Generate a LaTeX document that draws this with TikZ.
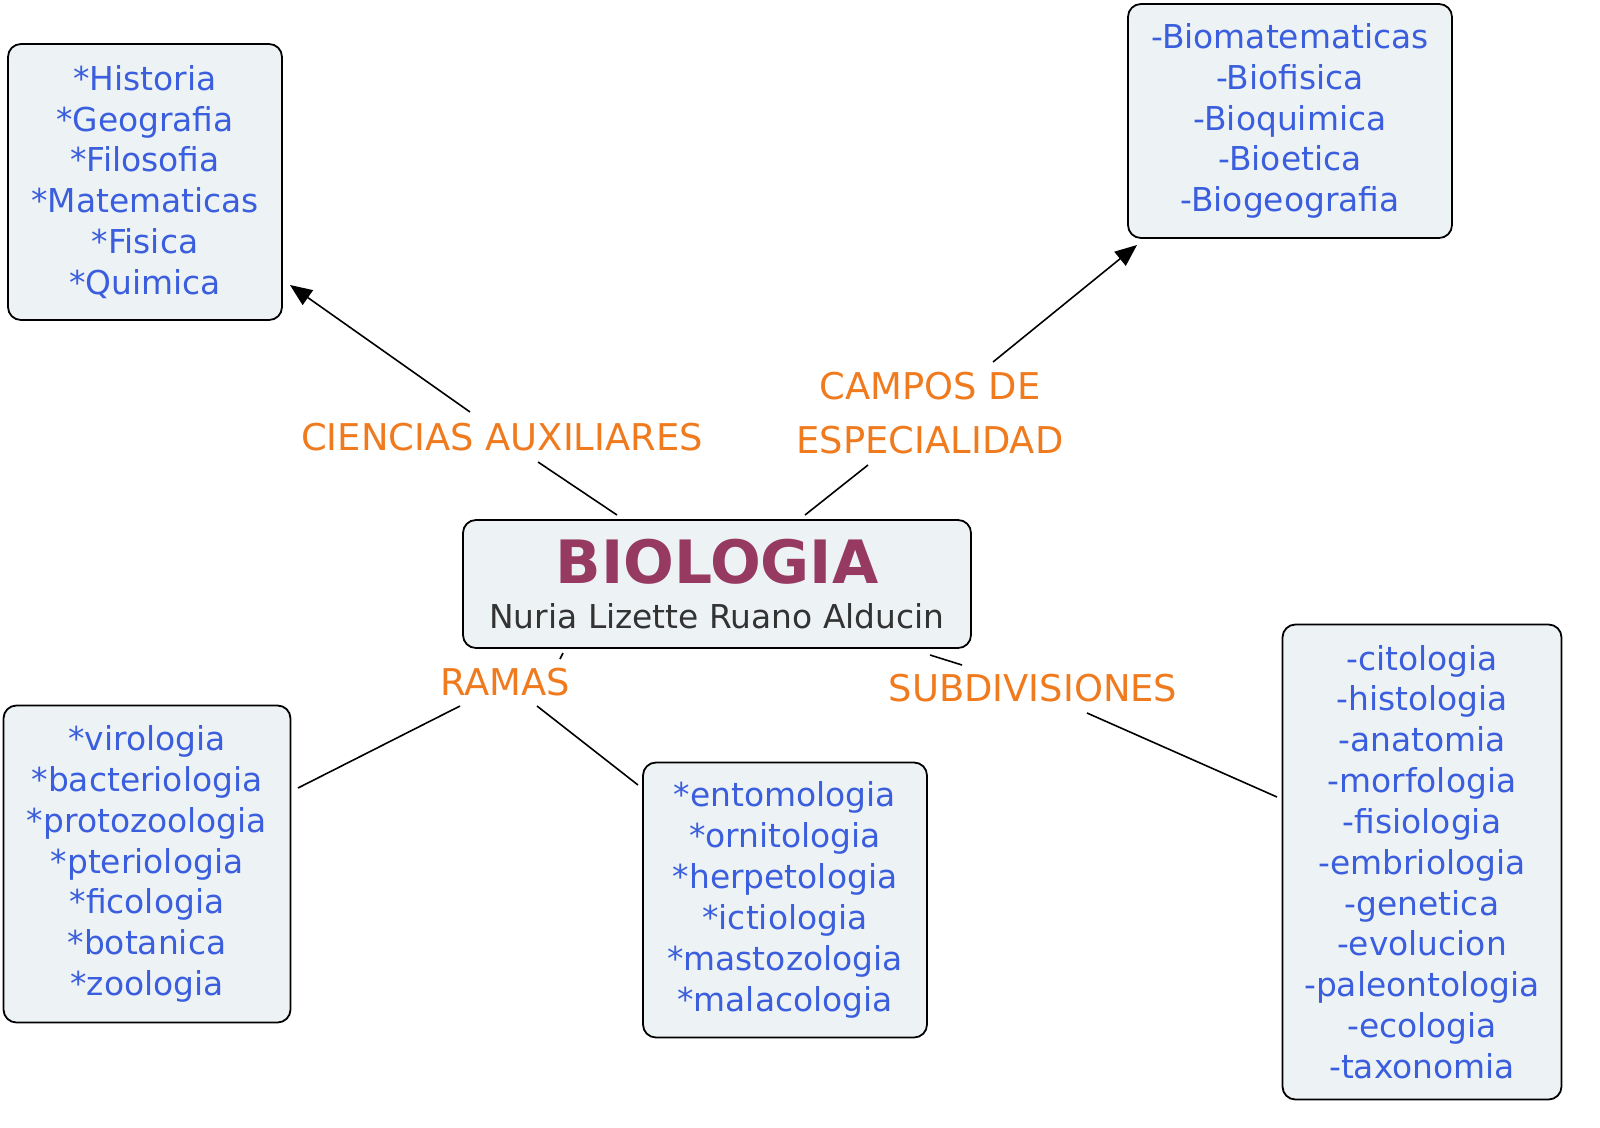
\documentclass[tikz,border=0pt]{standalone}
\usepackage{fontspec}
\setmainfont{DejaVu Sans}
\usetikzlibrary{arrows.meta}
\definecolor{boxfill}{HTML}{EDF2F5}
\definecolor{txtblue}{HTML}{3A5EDD}
\definecolor{lblorange}{HTML}{F07A1E}
\definecolor{maroon}{HTML}{963A62}
\definecolor{darkgrey}{HTML}{333333}
\begin{document}
\begin{tikzpicture}[x=1bp,y=-1bp,
  box/.style={draw=black,line width=1.8pt,rounded corners=13pt,fill=boxfill,
    text=txtblue,align=center,inner sep=0pt,font=\fontsize{33}{41}\selectfont},
  lbl/.style={text=lblorange,align=center,inner sep=4pt,font=\fontsize{37}{54}\selectfont},
  con/.style={line width=1.6pt},
  arr/.style={con,-{Triangle[length=22pt,width=18pt]}}]
\useasboundingbox (0,0) rectangle (1600,1127);
\node[box,minimum width=274bp,minimum height=276bp] (aux) at (145,182)
 {*Historia\\*Geografia\\*Filosofia\\*Matematicas\\*Fisica\\*Quimica};
\node[box,minimum width=324bp,minimum height=234bp] (esp) at (1290,121)
 {-Biomatematicas\\-Biofisica\\-Bioquimica\\-Bioetica\\-Biogeografia};
\node[box,minimum width=508bp,minimum height=128bp,align=center] (bio) at (717,584)
 {{\fontsize{60}{64}\selectfont\bfseries\color{maroon}BIOLOGIA}\\[4pt]
  {\fontsize{33}{40}\selectfont\color{darkgrey}Nuria Lizette Ruano Alducin}};
\node[box,minimum width=287bp,minimum height=317bp] (ram1) at (147,864)
 {*virologia\\*bacteriologia\\*protozoologia\\*pteriologia\\*ficologia\\*botanica\\*zoologia};
\node[box,minimum width=284bp,minimum height=275bp] (ram2) at (785,900)
 {*entomologia\\*ornitologia\\*herpetologia\\*ictiologia\\*mastozologia\\*malacologia};
\node[box,minimum width=279bp,minimum height=475bp] (sub) at (1422,862)
 {-citologia\\-histologia\\-anatomia\\-morfologia\\-fisiologia\\-embriologia\\-genetica\\-evolucion\\-paleontologia\\-ecologia\\-taxonomia};
\node[lbl] (lca) at (502,437) {CIENCIAS AUXILIARES};
\node[lbl] (lce) at (930,413) {CAMPOS DE\\ESPECIALIDAD};
\node[lbl] (lra) at (505,682) {RAMAS};
\node[lbl] (lsu) at (1033,688) {SUBDIVISIONES};
\coordinate (a1) at (617,515); \coordinate (a2) at (538,462);
\coordinate (a3) at (470,412); \coordinate (a4) at (290,285);
\draw[con] (a1) -- (a2);
\draw[arr] (a3) -- (a4);
\coordinate (b1) at (805,515); \coordinate (b2) at (868,465);
\coordinate (b3) at (993,362); \coordinate (b4) at (1137,245);
\draw[con] (b1) -- (b2);
\draw[arr] (b3) -- (b4);
\coordinate (c1) at (563,653); \coordinate (c2) at (560,659);
\coordinate (c3) at (460,706); \coordinate (c4) at (298,788);
\coordinate (c5) at (537,706); \coordinate (c6) at (638,785);
\draw[con] (c1) -- (c2);
\draw[con] (c3) -- (c4);
\draw[con] (c5) -- (c6);
\coordinate (d1) at (930,655); \coordinate (d2) at (962,665);
\coordinate (d3) at (1087,713); \coordinate (d4) at (1277,797);
\draw[con] (d1) -- (d2);
\draw[con] (d3) -- (d4);
\end{tikzpicture}
\end{document}
